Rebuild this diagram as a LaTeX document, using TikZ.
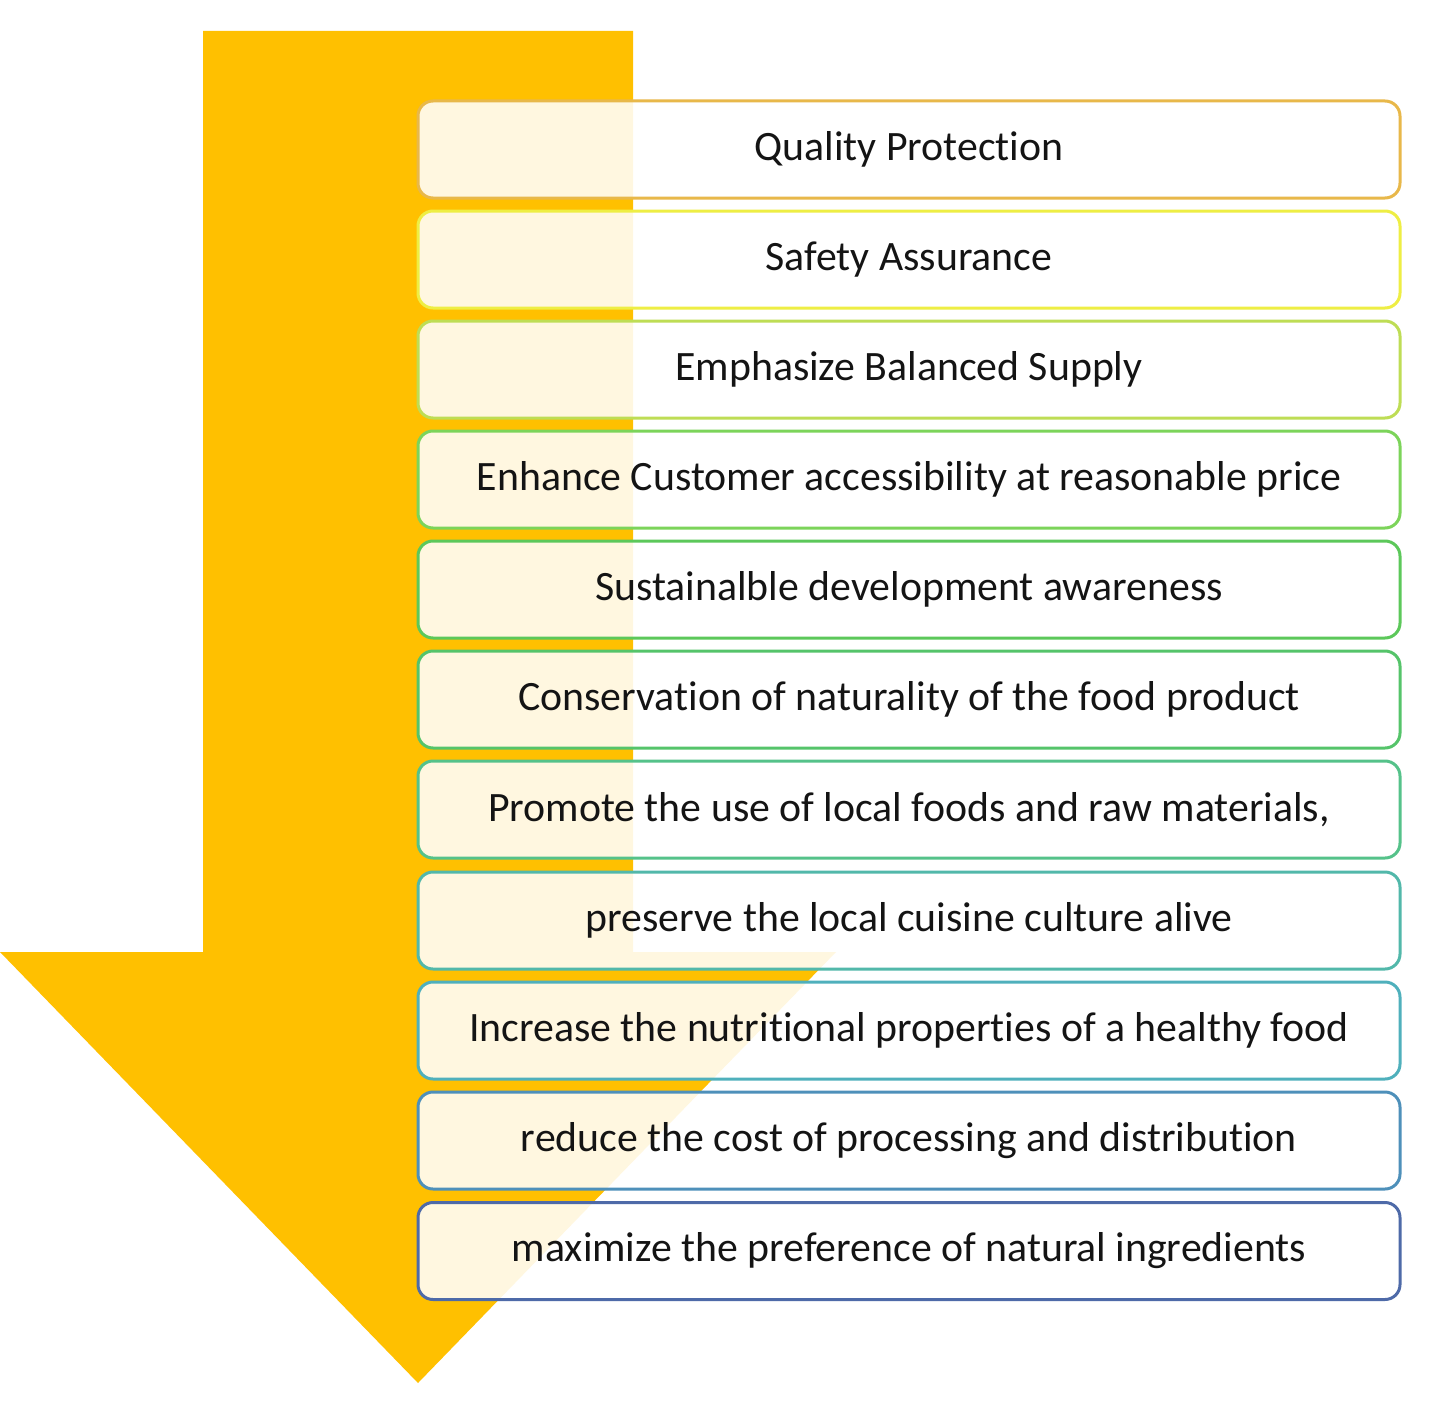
\documentclass[tikz,border=0pt]{standalone}
\usepackage{fontspec}
\setmainfont[RawFeature={-liga,-clig,-calt,-dlig}]{Carlito}
\definecolor{arrowgold}{HTML}{FFC000}
\definecolor{c1}{HTML}{E8B84A}
\definecolor{c2}{HTML}{EEEE44}
\definecolor{c3}{HTML}{BEDD55}
\definecolor{c4}{HTML}{7CD45A}
\definecolor{c5}{HTML}{5CC85A}
\definecolor{c6}{HTML}{55C46A}
\definecolor{c7}{HTML}{55C28A}
\definecolor{c8}{HTML}{52B8AA}
\definecolor{c9}{HTML}{4FB0BC}
\definecolor{c10}{HTML}{4E90BA}
\definecolor{c11}{HTML}{4E6AA8}
\begin{document}
\begin{tikzpicture}[x=0.5pt,y=-0.5pt,
  itembox/.style={draw=#1, line width=1.5pt, rounded corners=7.5pt,
    fill=white, fill opacity=0.88, text opacity=1,
    minimum width=491pt, minimum height=48.5pt, inner sep=0pt,
    font=\fontsize{20.9pt}{24pt}\selectfont, text=black!92},
  arrowshape/.style={fill=arrowgold, draw=none}]
\useasboundingbox (0,0) rectangle (1451,1418);
\fill[white] (0,0) rectangle (1451,1418);
\path[arrowshape] (203,31) -- (633,31) -- (633,952) -- (836,952) -- (418,1383) -- (0,952) -- (203,952) -- cycle;
\node[itembox=c1]  (b1)  at (909,149.5)  {Quality Protection};
\node[itembox=c2]  (b2)  at (909,259.5)  {Safety Assurance};
\node[itembox=c3]  (b3)  at (909,369.5)  {Emphasize Balanced Supply};
\node[itembox=c4]  (b4)  at (909,479.5)  {Enhance Customer accessibility at reasonable price};
\node[itembox=c5]  (b5)  at (909,589.5)  {Sustainalble development awareness};
\node[itembox=c6]  (b6)  at (909,699.5)  {Conservation of naturality of the food product};
\node[itembox=c7]  (b7)  at (909,809.5)  {Promote the use of local foods and raw materials,};
\node[itembox=c8]  (b8)  at (909,920.5)  {preserve the local cuisine culture alive};
\node[itembox=c9]  (b9)  at (909,1030.5) {Increase the nutritional properties of a healthy food};
\node[itembox=c10] (b10) at (909,1140.5) {reduce the cost of processing and distribution};
\node[itembox=c11] (b11) at (909,1251)   {maximize the preference of natural ingredients};
\end{tikzpicture}
\end{document}
